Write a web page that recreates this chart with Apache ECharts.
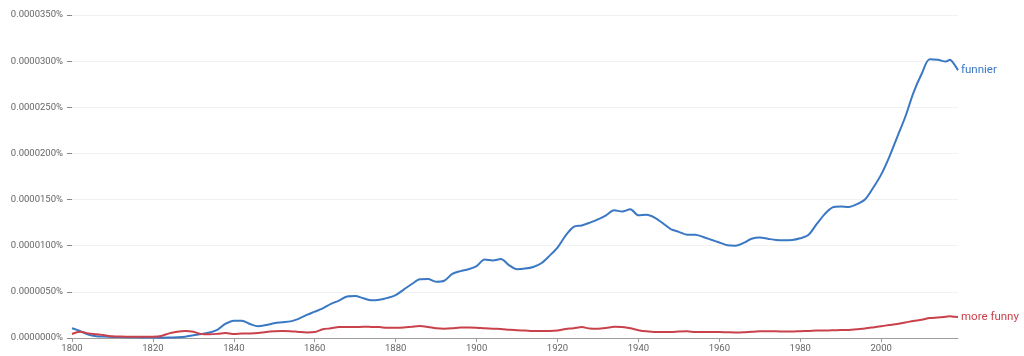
<!DOCTYPE html>
<html>
<head>
<meta charset="utf-8">
<script src="https://cdn.jsdelivr.net/npm/echarts@6/dist/echarts.min.js"></script>
<style>
html,body{margin:0;padding:0;background:#fff;}
#chart{width:1024px;height:356px;}
</style>
</head>
<body>
<div id="chart"></div>
<script>
// values in millionths of a percent (1 = 0.0000010%)
const years = [1800,1802,1804,1806,1808,1810,1812,1814,1816,1818,1820,1822,1824,1826,1828,1830,1832,1834,1836,1838,1840,1842,1844,1846,1848,1850,1852,1854,1856,1858,1860,1862,1864,1866,1868,1870,1872,1874,1876,1878,1880,1882,1884,1886,1888,1890,1892,1894,1896,1898,1900,1902,1904,1906,1908,1910,1912,1914,1916,1918,1920,1922,1924,1926,1928,1930,1932,1934,1936,1938,1940,1942,1944,1946,1948,1950,1952,1954,1956,1958,1960,1962,1964,1966,1968,1970,1972,1974,1976,1978,1980,1982,1984,1986,1988,1990,1992,1994,1996,1998,2000,2002,2004,2006,2008,2010,2012,2014,2016,2017,2018,2019];
const funnier = [1.05,0.75,0.38,0.2,0.15,0.12,0.1,0.08,0.07,0.06,0.05,0.04,0.05,0.08,0.14,0.29,0.43,0.6,0.92,1.55,1.88,1.88,1.52,1.27,1.4,1.6,1.7,1.8,2.08,2.5,2.85,3.22,3.7,4.05,4.5,4.55,4.3,4.08,4.15,4.35,4.65,5.25,5.85,6.37,6.4,6.1,6.2,6.95,7.25,7.45,7.8,8.5,8.4,8.55,7.9,7.45,7.52,7.7,8.1,8.9,9.8,11.1,12.05,12.2,12.5,12.85,13.3,13.85,13.7,13.95,13.3,13.35,13.05,12.45,11.8,11.5,11.2,11.2,10.95,10.65,10.35,10.05,10.0,10.3,10.75,10.88,10.75,10.63,10.6,10.62,10.8,11.15,12.3,13.4,14.15,14.25,14.2,14.5,15.0,16.25,17.7,19.6,21.8,24.0,26.6,28.6,30.2,30.15,29.95,30.15,29.7,29.0];
const moreFunny = [0.43,0.68,0.5,0.4,0.3,0.18,0.15,0.14,0.13,0.13,0.14,0.22,0.5,0.68,0.76,0.68,0.42,0.4,0.45,0.54,0.42,0.48,0.5,0.55,0.65,0.72,0.76,0.74,0.66,0.6,0.65,0.94,1.05,1.18,1.2,1.18,1.22,1.2,1.18,1.1,1.1,1.13,1.22,1.3,1.2,1.05,1.0,1.05,1.15,1.15,1.12,1.05,1.0,0.98,0.9,0.83,0.8,0.76,0.76,0.76,0.8,0.98,1.05,1.18,1.02,1.0,1.08,1.22,1.18,1.05,0.85,0.72,0.65,0.65,0.65,0.7,0.72,0.66,0.65,0.65,0.65,0.62,0.6,0.62,0.68,0.72,0.72,0.72,0.7,0.7,0.74,0.76,0.8,0.82,0.83,0.86,0.87,0.95,1.03,1.15,1.28,1.4,1.52,1.68,1.85,1.97,2.17,2.22,2.3,2.35,2.3,2.28];
const xTicks = [1800,1820,1840,1860,1880,1900,1920,1940,1960,1980,2000];
const seriesNames = ['funnier','more funny'];

const pair = arr => years.map((y,i)=>[y,arr[i]]);
const chart = echarts.init(document.getElementById('chart'));
const blue = '#3a78c4', red = '#c9414a';
chart.setOption({
  animation:false,
  textStyle:{fontFamily:'Roboto'},
  grid:{left:72,right:66,top:15,bottom:18},
  xAxis:{
    type:'value',min:1800,max:2019,
    axisLine:{lineStyle:{color:'#9e9e9e',width:1}},
    axisTick:{length:4,lineStyle:{color:'#9e9e9e'},customValues:xTicks},
    axisLabel:{color:'#666',fontSize:9.5,margin:6,customValues:xTicks,formatter:v=>String(v)},
    splitLine:{show:false}
  },
  yAxis:{
    type:'value',min:0,max:35,interval:5,
    axisLine:{show:false},
    axisTick:{show:true,length:5,inside:false,lineStyle:{color:'#888'}},
    axisLabel:{color:'#666',fontSize:9.5,margin:9,formatter:v=>(v*1e-6).toFixed(7)+'%'},
    splitLine:{lineStyle:{color:'#f2f2f2'}}
  },
  series:[
    {name:seriesNames[0],type:'line',data:pair(funnier),showSymbol:false,smooth:0.3,
     lineStyle:{color:blue,width:2},itemStyle:{color:blue},
     endLabel:{show:true,formatter:'{a}',color:blue,fontSize:11.5,distance:3}},
    {name:seriesNames[1],type:'line',data:pair(moreFunny),showSymbol:false,smooth:0.3,
     lineStyle:{color:red,width:2},itemStyle:{color:red},
     endLabel:{show:true,formatter:'{a}',color:red,fontSize:11.5,distance:3}}
  ]
});
</script>
</body>
</html>
